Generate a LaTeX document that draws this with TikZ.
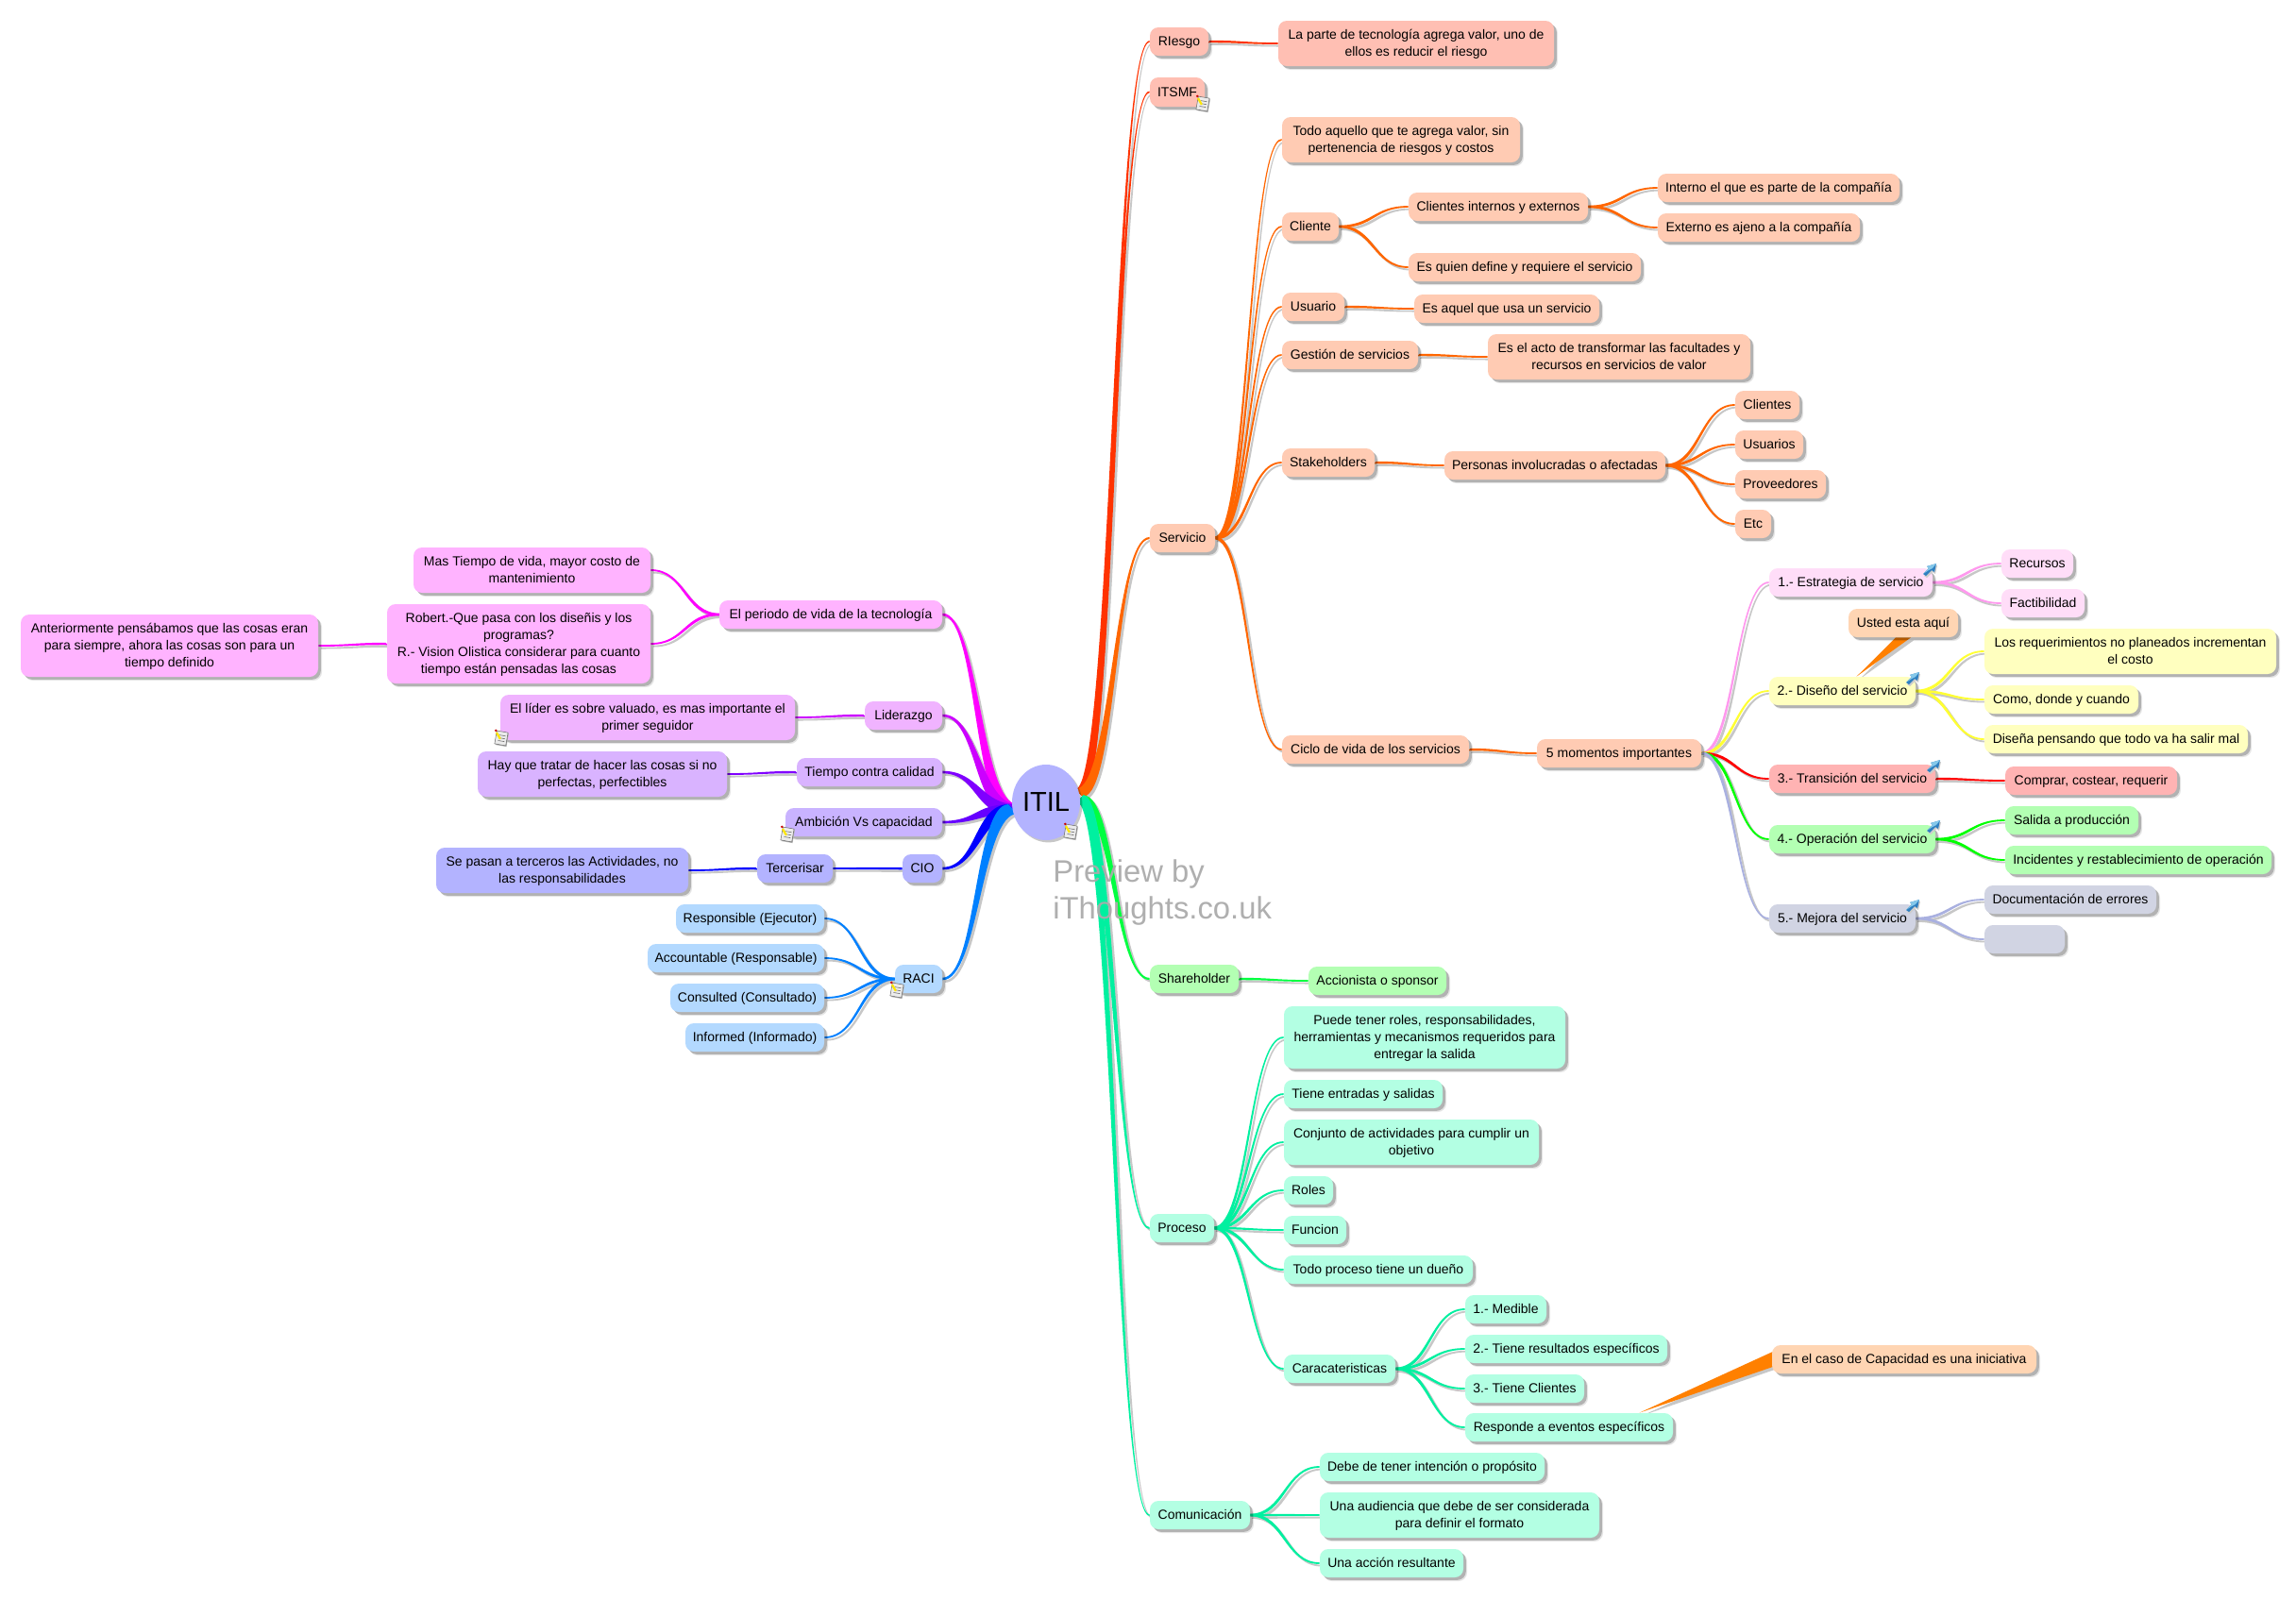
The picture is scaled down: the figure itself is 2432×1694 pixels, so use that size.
\documentclass[tikz,border=0pt]{standalone}
\usepackage{fontspec}
\setmainfont{Liberation Sans}
\usetikzlibrary{shadows,calc,shapes.geometric}
\pgfdeclarelayer{conn}
\pgfsetlayers{conn,main}
\definecolor{cRi}{HTML}{FFBFB3}\definecolor{lRi}{HTML}{FF3300}
\definecolor{cSe}{HTML}{FFCBB3}\definecolor{lSe}{HTML}{FF6600}
\definecolor{cSh}{HTML}{B3FFB3}\definecolor{lSh}{HTML}{00FF40}
\definecolor{cPr}{HTML}{B3FFE3}\definecolor{lPr}{HTML}{00F0A0}
\definecolor{cPe}{HTML}{FFB3FF}\definecolor{lPe}{HTML}{FF00FF}
\definecolor{cLi}{HTML}{F0B3FF}\definecolor{lLi}{HTML}{CC00FF}
\definecolor{cTi}{HTML}{D9B3FF}\definecolor{lTi}{HTML}{8000FF}
\definecolor{cAm}{HTML}{C9B3FF}\definecolor{lAm}{HTML}{6600FF}
\definecolor{cCi}{HTML}{B3B3FF}\definecolor{lCi}{HTML}{0000FF}
\definecolor{cRa}{HTML}{B3D9FF}\definecolor{lRa}{HTML}{0080FF}
\definecolor{cE1}{HTML}{FFDDF8}\definecolor{lE1}{HTML}{FF99EE}
\definecolor{cE2}{HTML}{FFFFBF}\definecolor{lE2}{HTML}{FFFF33}
\definecolor{cE3}{HTML}{FFB3B3}\definecolor{lE3}{HTML}{FF0000}
\definecolor{cE4}{HTML}{B3FFB3}\definecolor{lE4}{HTML}{00FF00}
\definecolor{cE5}{HTML}{D1D4E3}\definecolor{lE5}{HTML}{A9B0E0}
\definecolor{cCa}{HTML}{FFD5B3}\definecolor{lCa}{HTML}{FF8000}
\definecolor{wm}{HTML}{ABABAB}
\definecolor{iconA}{HTML}{2E7FC0}\definecolor{iconB}{HTML}{85C8EA}
\tikzset{
  mmbox/.style={rounded corners=4.5pt,inner sep=0pt,align=center,text=black,
    font=\fontsize{7}{9}\selectfont,
    general shadow={shadow xshift=2pt,shadow yshift=-2pt,fill=black,opacity=.1,rounded corners=4.5pt},
    general shadow={shadow xshift=1.4pt,shadow yshift=-1.4pt,fill=black,opacity=.22,rounded corners=4.5pt}},
  rootnode/.style={ellipse,inner sep=0pt,fill=cCi,minimum width=36pt,minimum height=40pt,
    font=\fontsize{14.5}{16}\selectfont,
    general shadow={shadow xshift=1.2pt,shadow yshift=-1.2pt,fill=black,opacity=.22}},
  watermark/.style={align=left,inner sep=0pt,text=wm,opacity=.95,font=\fontsize{16.4}{19.5}\selectfont},
}
% box node from pixel corners
\newcommand{\mm}[7]{%
  \pgfmathsetmacro\mmw{(#4-#2)*.5}\pgfmathsetmacro\mmh{(#5-#3)*.5}%
  \node[mmbox,fill=#6,minimum width=\mmw pt,minimum height=\mmh pt] (#1) at ({(#2+#4)/2},{(#3+#5)/2})
    {\raisebox{-.5pt}[\height][\depth]{\begin{tabular}{@{}c@{}}#7\end{tabular}}};}
% tapered S-curve, half widths in px
\newcommand{\tapfill}[5]{%
  \path (#1); \pgfgetlastxy{\tpxa}{\tpya};
  \path (#2); \pgfgetlastxy{\tpxb}{\tpyb};
  \pgfmathsetmacro\tpsg{sign(\tpxb-\tpxa)*sign(\tpyb-\tpya)}%
  \pgfmathsetmacro\tpxm{(\tpxa+\tpxb)/2}%
  \pgfmathsetmacro\tpXa{\tpxa}\pgfmathsetmacro\tpYa{\tpya}%
  \pgfmathsetmacro\tpXb{\tpxb}\pgfmathsetmacro\tpYb{\tpyb}%
  \pgfmathsetmacro\tpu{#4*.5}\pgfmathsetmacro\tpv{#5*.5}%
  \fill[#3] (\tpXa pt+\tpsg*\tpu pt,\tpYa pt-\tpu pt)
    .. controls (\tpxm pt+\tpsg*.8*\tpu pt,\tpYa pt-.8*\tpu pt) and (\tpxm pt+\tpsg*\tpv pt,\tpYb pt-\tpv pt) .. (\tpXb pt,\tpYb pt-\tpv pt)
    -- (\tpXb pt,\tpYb pt+\tpv pt)
    .. controls (\tpxm pt-\tpsg*\tpv pt,\tpYb pt+\tpv pt) and (\tpxm pt-\tpsg*.8*\tpu pt,\tpYa pt+.8*\tpu pt) .. (\tpXa pt-\tpsg*\tpu pt,\tpYa pt+\tpu pt)
    -- cycle;}
\newcommand{\lnkshadow}[5]{\begin{scope}[xshift=1.3pt,yshift=-1.3pt]\tapfill{#1}{#2}{black!22}{#4}{#5}\end{scope}}
\newcommand{\lnkcolor}[5]{\tapfill{#1}{#2}{#3}{#4}{#5}}
\newcommand{\tk}{1.25}
\newcommand{\te}{0.9}
\newcommand{\noteicon}[2]{%
  \begin{scope}[shift={(#1,#2)},rotate=-10]
    \fill[black!30] (-5,-6) rectangle (7,8);
    \draw[black!60,fill=black!8,line width=.25pt] (-6,-7) rectangle (6,7);
    \foreach \ly in {-3,0,3}{\draw[black!55,line width=.3pt] (-3,\ly) -- (4,\ly);}
    \draw[yellow!90!orange,line width=1.1pt] (-6,-5) -- (-1,1);
    \fill[red!80!black] (-7,-7) circle (1.4);
  \end{scope}}
\newcommand{\arrowicon}[2]{%
  \begin{scope}[shift={(#1,#2)}]
    \fill[black!20] (-6,7) -- (0,1) -- (-2,-1) -- (8,-4) -- (6,5) -- (3,3) -- (-3,9) -- cycle;
    \fill[iconA] (-7,5) -- (-1,-1) -- (-3,-3) -- (7,-6) -- (5,3) -- (2,1) -- (-4,7) -- cycle;
    \fill[iconB] (-7,5) -- (-1,-1) -- (-3,-3) -- (7,-6) -- (3,-1) -- (-1,1) -- cycle;
  \end{scope}}
\begin{document}
\begin{tikzpicture}[x=.5pt,y=-.5pt]
\useasboundingbox (0,0) rectangle (2432,1694);
\begin{pgfonlayer}{conn}\fill[white] (0,0) rectangle (2432,1694);\end{pgfonlayer}
% root
\node[rootnode] (root) at (1108,850) {ITIL};
\coordinate (rootA) at (1143,840);
\coordinate (rootB) at (1144,846);
\coordinate (rootL) at (1073,857);
% right: upper
\mm{riesgo}{1218}{29}{1280}{59}{cRi}{RIesgo}
\mm{laparte}{1354}{22}{1646}{70}{cRi}{La parte de tecnología agrega valor, uno de\\ellos es reducir el riesgo}
\mm{itsmf}{1218}{82}{1276}{113}{cRi}{ITSMF}
\mm{servicio}{1218}{555}{1287}{585}{cSe}{Servicio}
\mm{todo}{1358}{124}{1610}{172}{cSe}{Todo aquello que te agrega valor, sin\\pertenencia de riesgos y costos}
\mm{cliente}{1358}{225}{1418}{255}{cSe}{Cliente}
\mm{cint}{1492}{204}{1682}{234}{cSe}{Clientes internos y externos}
\mm{interno}{1756}{184}{2012}{214}{cSe}{Interno el que es parte de la compañía}
\mm{externo}{1756}{226}{1970}{256}{cSe}{Externo es ajeno a la compañía}
\mm{quien}{1492}{268}{1738}{298}{cSe}{Es quien define y requiere el servicio}
\mm{usuario}{1358}{310}{1424}{340}{cSe}{Usuario}
\mm{aquel}{1498}{312}{1694}{342}{cSe}{Es aquel que usa un servicio}
\mm{gestion}{1358}{361}{1502}{391}{cSe}{Gestión de servicios}
\mm{acto}{1576}{354}{1854}{402}{cSe}{Es el acto de transformar las facultades y\\recursos en servicios de valor}
\mm{stake}{1358}{475}{1456}{505}{cSe}{Stakeholders}
\mm{personas}{1530}{478}{1764}{508}{cSe}{Personas involucradas o afectadas}
\mm{pcli}{1838}{414}{1906}{444}{cSe}{Clientes}
\mm{pusu}{1838}{456}{1910}{486}{cSe}{Usuarios}
\mm{pprov}{1838}{498}{1934}{528}{cSe}{Proveedores}
\mm{petc}{1838}{540}{1876}{570}{cSe}{Etc}
\mm{ciclo}{1358}{779}{1556}{809}{cSe}{Ciclo de vida de los servicios}
\mm{cinco}{1628}{783}{1802}{813}{cSe}{5 momentos importantes}
\mm{eone}{1874}{602}{2047}{632}{cE1}{1.- Estrategia de servicio}
\mm{recursos}{2120}{582}{2196}{612}{cE1}{Recursos}
\mm{factib}{2120}{624}{2208}{654}{cE1}{Factibilidad}
\mm{etwo}{1874}{717}{2029}{747}{cE2}{2.- Diseño del servicio}
\mm{usted}{1958}{645}{2074}{675}{cCa}{Usted esta aquí}
\mm{losreq}{2102}{666}{2411}{714}{cE2}{Los requerimientos no planeados incrementan\\el costo}
\mm{como}{2102}{726}{2265}{756}{cE2}{Como, donde y cuando}
\mm{disena}{2102}{768}{2381}{798}{cE2}{Diseña pensando que todo va ha salir mal}
\mm{ethree}{1874}{810}{2050}{840}{cE3}{3.- Transición del servicio}
\mm{comprar}{2124}{812}{2306}{842}{cE3}{Comprar, costear, requerir}
\mm{efour}{1874}{874}{2050}{904}{cE4}{4.- Operación del servicio}
\mm{salida}{2124}{854}{2265}{884}{cE4}{Salida a producción}
\mm{incid}{2124}{896}{2406}{926}{cE4}{Incidentes y restablecimiento de operación}
\mm{efive}{1874}{958}{2029}{988}{cE5}{5.- Mejora del servicio}
\mm{docu}{2102}{938}{2284}{968}{cE5}{Documentación de errores}
\mm{blank}{2102}{980}{2187}{1010}{cE5}{}
% right: lower
\mm{share}{1218}{1022}{1312}{1052}{cSh}{Shareholder}
\mm{accion}{1386}{1024}{1532}{1054}{cSh}{Accionista o sponsor}
\mm{proceso}{1218}{1286}{1286}{1316}{cPr}{Proceso}
\mm{puede}{1360}{1066}{1658}{1132}{cPr}{Puede tener roles, responsabilidades,\\herramientas y mecanismos requeridos para\\entregar la salida}
\mm{tiene}{1360}{1144}{1528}{1174}{cPr}{Tiene entradas y salidas}
\mm{conj}{1360}{1186}{1630}{1234}{cPr}{Conjunto de actividades para cumplir un\\objetivo}
\mm{roles}{1360}{1246}{1412}{1276}{cPr}{Roles}
\mm{funcion}{1360}{1288}{1426}{1318}{cPr}{Funcion}
\mm{dueno}{1360}{1330}{1560}{1360}{cPr}{Todo proceso tiene un dueño}
\mm{carac}{1360}{1435}{1478}{1465}{cPr}{Caracateristicas}
\mm{medible}{1552}{1372}{1638}{1402}{cPr}{1.- Medible}
\mm{result}{1552}{1414}{1766}{1444}{cPr}{2.- Tiene resultados específicos}
\mm{tclien}{1552}{1456}{1678}{1486}{cPr}{3.- Tiene Clientes}
\mm{respo}{1552}{1497}{1772}{1527}{cPr}{Responde a eventos específicos}
\mm{encaso}{1877}{1425}{2157}{1455}{cCa}{En el caso de Capacidad es una iniciativa}
\mm{comun}{1218}{1590}{1324}{1620}{cPr}{Comunicación}
\mm{debe}{1398}{1539}{1636}{1569}{cPr}{Debe de tener intención o propósito}
\mm{audi}{1398}{1581}{1694}{1629}{cPr}{Una audiencia que debe de ser considerada\\para definir el formato}
\mm{unaacc}{1398}{1641}{1550}{1671}{cPr}{Una acción resultante}
% left
\mm{periodo}{762}{636}{998}{666}{cPe}{El periodo de vida de la tecnología}
\mm{mastiempo}{438}{580}{689}{628}{cPe}{Mas Tiempo de vida, mayor costo de\\mantenimiento}
\mm{robert}{410}{640}{689}{724}{cPe}{Robert.-Que pasa con los diseñis y los\\programas?\\R.- Vision Olistica considerar para cuanto\\tiempo están pensadas las cosas}
\mm{anter}{22}{651}{337}{717}{cPe}{Anteriormente pensábamos que las cosas eran\\para siempre, ahora las cosas son para un\\tiempo definido}
\mm{lider}{916}{743}{998}{773}{cLi}{Liderazgo}
\mm{sobreval}{530}{736}{842}{784}{cLi}{El líder es sobre valuado, es mas importante el\\primer seguidor}
\mm{tiempo}{844}{803}{998}{833}{cTi}{Tiempo contra calidad}
\mm{hayque}{506}{796}{770}{844}{cTi}{Hay que tratar de hacer las cosas si no\\perfectas, perfectibles}
\mm{ambicion}{832}{856}{998}{886}{cAm}{Ambición Vs capacidad}
\mm{cio}{956}{905}{998}{935}{cCi}{CIO}
\mm{tercer}{802}{905}{882}{935}{cCi}{Tercerisar}
\mm{sepasan}{462}{898}{729}{946}{cCi}{Se pasan a terceros las Actividades, no\\las responsabilidades}
\mm{raci}{948}{1022}{998}{1052}{cRa}{RACI}
\mm{respon}{716}{958}{873}{988}{cRa}{Responsible (Ejecutor)}
\mm{accou}{686}{1000}{873}{1030}{cRa}{Accountable (Responsable)}
\mm{consu}{710}{1042}{873}{1072}{cRa}{Consulted (Consultado)}
\mm{infor}{726}{1084}{873}{1114}{cRa}{Informed (Informado)}
% connectors
\newcommand{\alllinks}{%
  \lnk{rootA}{riesgo.west}{lRi}{4}{.9}
  \lnk{rootA}{itsmf.west}{lRi}{3.5}{.9}
  \lnk{rootA}{servicio.west}{lSe}{4}{1.1}
  \lnk{rootB}{share.west}{lSh}{3.6}{1.1}
  \lnk{rootB}{proceso.west}{lPr}{3.6}{1}
  \lnk{rootB}{comun.west}{lPr}{3.6}{.9}
  \lnk{rootL}{periodo.east}{lPe}{5}{1.3}
  \lnk{rootL}{lider.east}{lLi}{5}{1.3}
  \lnk{rootL}{tiempo.east}{lTi}{5}{1.3}
  \lnk{rootL}{ambicion.east}{lAm}{5}{1.3}
  \lnk{rootL}{cio.east}{lCi}{5}{1.3}
  \lnk{rootL}{raci.east}{lRa}{5}{1.3}
  \lnk{riesgo.east}{laparte.west}{lRi}{\tk}{\te}
  \lnk{servicio.east}{todo.west}{lSe}{\tk}{\te}
  \lnk{servicio.east}{cliente.west}{lSe}{\tk}{\te}
  \lnk{servicio.east}{usuario.west}{lSe}{\tk}{\te}
  \lnk{servicio.east}{gestion.west}{lSe}{\tk}{\te}
  \lnk{servicio.east}{stake.west}{lSe}{\tk}{\te}
  \lnk{servicio.east}{ciclo.west}{lSe}{\tk}{\te}
  \lnk{cliente.east}{cint.west}{lSe}{\tk}{\te}
  \lnk{cliente.east}{quien.west}{lSe}{\tk}{\te}
  \lnk{cint.east}{interno.west}{lSe}{\tk}{\te}
  \lnk{cint.east}{externo.west}{lSe}{\tk}{\te}
  \lnk{usuario.east}{aquel.west}{lSe}{\tk}{\te}
  \lnk{gestion.east}{acto.west}{lSe}{\tk}{\te}
  \lnk{stake.east}{personas.west}{lSe}{\tk}{\te}
  \lnk{personas.east}{pcli.west}{lSe}{\tk}{\te}
  \lnk{personas.east}{pusu.west}{lSe}{\tk}{\te}
  \lnk{personas.east}{pprov.west}{lSe}{\tk}{\te}
  \lnk{personas.east}{petc.west}{lSe}{\tk}{\te}
  \lnk{ciclo.east}{cinco.west}{lSe}{\tk}{\te}
  \lnk{cinco.east}{eone.west}{lE1}{\tk}{\te}
  \lnk{cinco.east}{etwo.west}{lE2}{\tk}{\te}
  \lnk{cinco.east}{ethree.west}{lE3}{\tk}{\te}
  \lnk{cinco.east}{efour.west}{lE4}{\tk}{\te}
  \lnk{cinco.east}{efive.west}{lE5}{\tk}{\te}
  \lnk{eone.east}{recursos.west}{lE1}{\tk}{\te}
  \lnk{eone.east}{factib.west}{lE1}{\tk}{\te}
  \lnk{etwo.east}{losreq.west}{lE2}{\tk}{\te}
  \lnk{etwo.east}{como.west}{lE2}{\tk}{\te}
  \lnk{etwo.east}{disena.west}{lE2}{\tk}{\te}
  \lnk{ethree.east}{comprar.west}{lE3}{\tk}{\te}
  \lnk{efour.east}{salida.west}{lE4}{\tk}{\te}
  \lnk{efour.east}{incid.west}{lE4}{\tk}{\te}
  \lnk{efive.east}{docu.west}{lE5}{\tk}{\te}
  \lnk{efive.east}{blank.west}{lE5}{\tk}{\te}
  \lnk{share.east}{accion.west}{lSh}{\tk}{\te}
  \lnk{proceso.east}{puede.west}{lPr}{\tk}{\te}
  \lnk{proceso.east}{tiene.west}{lPr}{\tk}{\te}
  \lnk{proceso.east}{conj.west}{lPr}{\tk}{\te}
  \lnk{proceso.east}{roles.west}{lPr}{\tk}{\te}
  \lnk{proceso.east}{funcion.west}{lPr}{\tk}{\te}
  \lnk{proceso.east}{dueno.west}{lPr}{\tk}{\te}
  \lnk{proceso.east}{carac.west}{lPr}{\tk}{\te}
  \lnk{carac.east}{medible.west}{lPr}{\tk}{\te}
  \lnk{carac.east}{result.west}{lPr}{\tk}{\te}
  \lnk{carac.east}{tclien.west}{lPr}{\tk}{\te}
  \lnk{carac.east}{respo.west}{lPr}{\tk}{\te}
  \lnk{comun.east}{debe.west}{lPr}{\tk}{\te}
  \lnk{comun.east}{audi.west}{lPr}{\tk}{\te}
  \lnk{comun.east}{unaacc.west}{lPr}{\tk}{\te}
  \lnk{periodo.west}{mastiempo.east}{lPe}{\tk}{\te}
  \lnk{periodo.west}{robert.east}{lPe}{\tk}{\te}
  \lnk{robert.west}{anter.east}{lPe}{\tk}{\te}
  \lnk{lider.west}{sobreval.east}{lLi}{\tk}{\te}
  \lnk{tiempo.west}{hayque.east}{lTi}{\tk}{\te}
  \lnk{cio.west}{tercer.east}{lCi}{\tk}{\te}
  \lnk{tercer.west}{sepasan.east}{lCi}{\tk}{\te}
  \lnk{raci.west}{respon.east}{lRa}{\tk}{\te}
  \lnk{raci.west}{accou.east}{lRa}{\tk}{\te}
  \lnk{raci.west}{consu.east}{lRa}{\tk}{\te}
  \lnk{raci.west}{infor.east}{lRa}{\tk}{\te}
}
\begin{pgfonlayer}{conn}
  \let\lnk\lnkshadow \alllinks
  \fill[black!22] ($(usted.south)+(-5,3)$) -- ($(usted.south)+(11,3)$) -- ($(etwo.north west)+(96,3)$) -- cycle;
  \fill[black!22] ($(encaso.west)+(3,-4)$) -- ($(encaso.west)+(3,11)$) -- ($(respo.north west)+(188,3)$) -- cycle;
  \let\lnk\lnkcolor \alllinks
  \fill[lCa] ($(usted.south)+(-8,0)$) -- ($(usted.south)+(8,0)$) -- ($(etwo.north west)+(93,0)$) -- cycle;
  \fill[lCa] ($(encaso.west)+(1,-8)$) -- ($(encaso.west)+(1,8)$) -- ($(respo.north west)+(185,0)$) -- cycle;
\end{pgfonlayer}
% icons
\noteicon{1274}{110}
\noteicon{1134}{881}
\noteicon{531}{782}
\noteicon{834}{884}
\noteicon{950}{1049}
\arrowicon{2044}{603}
\arrowicon{2026}{718}
\arrowicon{2048}{811}
\arrowicon{2048}{875}
\arrowicon{2026}{959}
% watermark
\node[watermark,anchor=west] (mark) at (1115,946) {Preview by\\iThoughts.co.uk};
\end{tikzpicture}
\end{document}
